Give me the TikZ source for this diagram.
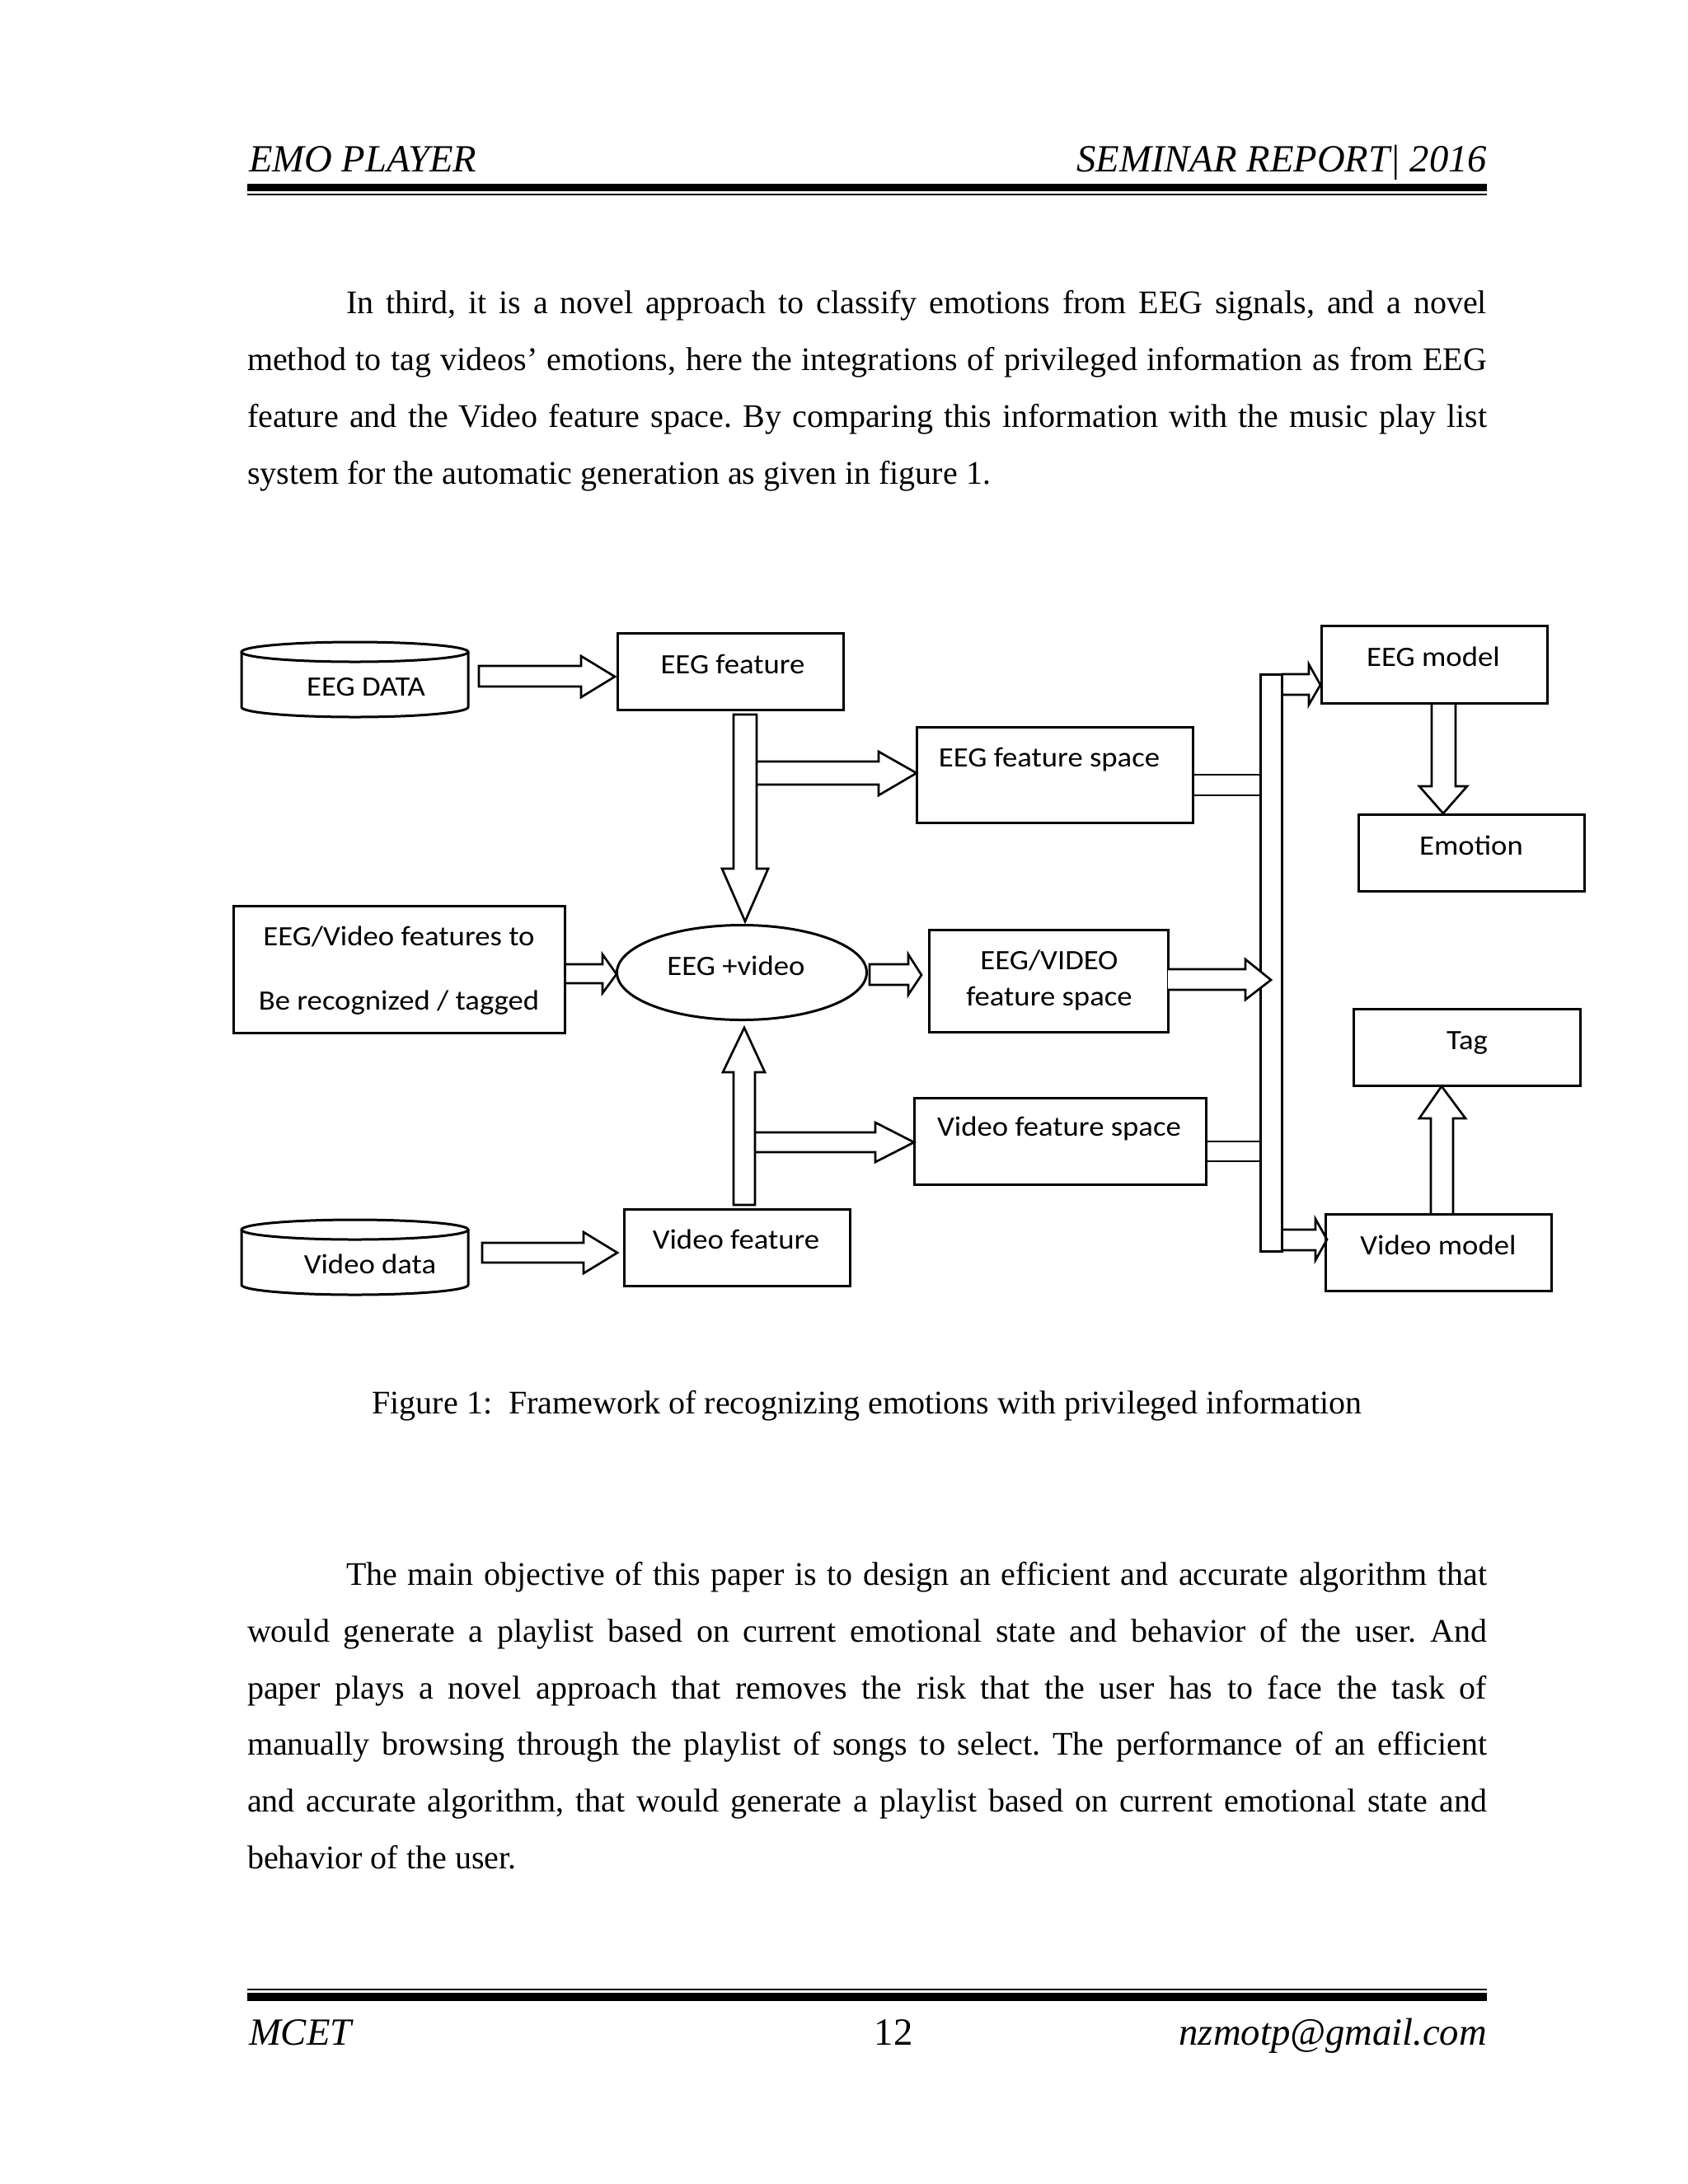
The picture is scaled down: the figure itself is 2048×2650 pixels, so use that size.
\documentclass[tikz,border=0pt]{standalone}
\usepackage{fontspec}
\setmainfont{Liberation Serif}
\newfontfamily\diag[FakeStretch=1.08]{Carlito}
\usetikzlibrary{shapes.geometric}
\frenchspacing
\newcommand\mybox[5]{%
  \pgfmathsetmacro\bw{(#4-#2)*0.3}\pgfmathsetmacro\bh{(#5-#3)*0.3}%
  \node[box, minimum width=\bw pt, minimum height=\bh pt] (#1) at ({(#2+#4)/2},{(#3+#5)/2}) {};}
\newcommand\jline[4]{\node[body] at (#1,#2) {\makebox[#3][s]{#4}};}
\tikzset{
  box/.style={draw, line width=0.9pt, inner sep=0pt, outer sep=0pt},
  lab/.style={font=\diag\fontsize{10.2}{12}\selectfont, inner sep=0pt, outer sep=0pt, anchor=base},
  barrow/.style={draw, line width=0.8pt, line join=miter},
  body/.style={font=\frenchspacing\fontsize{12}{14}\selectfont, inner sep=0pt, outer sep=0pt, anchor=base west},
  hdr/.style={font=\itshape\fontsize{14}{16}\selectfont, inner sep=0pt, outer sep=0pt}
}
\begin{document}
\begin{tikzpicture}[x=0.3pt,y=-0.3pt]
\useasboundingbox (0,0) rectangle (2048,2650);
\fill[white] (0,0) rectangle (2048,2650);

% header
\node[hdr, anchor=base west] (hl) at (302,208) {EMO PLAYER};
\node[hdr, anchor=base east] (hr) at (1804,208) {SEMINAR REPORT| 2016};
\fill (300,223) rectangle (1804,232);
\fill (300,235) rectangle (1804,237);

% paragraph 1
\jline{420}{380}{415.2pt}{In third, it is a novel approach to classify emotions from EEG signals, and a novel}
\jline{300}{449}{451.2pt}{method to tag videos’ emotions, here the integrations of privileged information as from EEG}
\jline{300}{518}{451.2pt}{feature and the Video feature space. By comparing this information with the music play list}
\node[body] at (300,587) {system for the automatic generation as given in figure 1.};

% ---------- diagram ----------
% cylinders
\coordinate (eegdata) at (430.5,825);
\draw[box] (293,791) -- (293,858) arc[start angle=180, end angle=360, x radius=41.25pt, y radius=3.6pt] -- (568,791);
\draw[box] (430.5,791) ellipse [x radius=41.25pt, y radius=3.6pt];
\coordinate (viddata) at (430.5,1526);
\draw[box] (293,1492) -- (293,1559) arc[start angle=180, end angle=360, x radius=41.25pt, y radius=3.6pt] -- (568,1492);
\draw[box] (430.5,1492) ellipse [x radius=41.25pt, y radius=3.6pt];

% boxes
\mybox{eegf}{749}{768}{1023}{861}
\mybox{efs}{1112}{882}{1447}{998}
\mybox{eegm}{1603}{759}{1877}{853}
\mybox{emo}{1648}{988}{1922}{1081}
\mybox{evin}{283}{1099}{685}{1253}
\mybox{evfs}{1127}{1128}{1417}{1252}
\mybox{tag}{1642}{1224}{1917}{1317}
\mybox{vfs}{1109}{1332}{1463}{1437}
\mybox{vidf}{757}{1467}{1031}{1560}
\mybox{vidm}{1608}{1473}{1882}{1566}
\node[box, ellipse, minimum width=90.9pt, minimum height=34.5pt] (ell) at (900,1180) {};

% labels
\node[lab] (t1) at (444,844) {EEG DATA};
\node[lab] (t2) at (889,817) {EEG feature};
\node[lab] (t3) at (1273,930) {EEG feature space};
\node[lab] (t4) at (1739,808) {EEG model};
\node[lab] (t5) at (1785,1037) {Emotion};
\node[lab] (t6) at (484,1147) {EEG/Video features to};
\node[lab] (t7) at (484,1225) {Be recognized / tagged};
\node[lab] (t8) at (893,1183) {EEG +video};
\node[lab] (t9) at (1273,1176) {EEG/VIDEO};
\node[lab] (t10) at (1273,1220) {feature space};
\node[lab] (t11) at (1780,1273) {Tag};
\node[lab] (t12) at (1285,1378) {Video feature space};
\node[lab] (t13) at (893,1515) {Video feature};
\node[lab] (t14) at (1745,1522) {Video model};
\node[lab] (t15) at (449,1545) {Video data};

% block arrows
% EEG DATA -> EEG feature
\draw[barrow] (581,808) -- (705,808) -- (705,796) -- (746,821) -- (705,846) -- (705,833) -- (581,833) -- cycle;
% Video data -> Video feature
\draw[barrow] (585,1508) -- (708,1508) -- (708,1495) -- (749,1520) -- (708,1545) -- (708,1532) -- (585,1532) -- cycle;
% EEG feature down to ellipse
\draw[barrow] (890,867) -- (918,867) -- (918,1054) -- (932,1054) -- (904,1118) -- (876,1054) -- (890,1054) -- cycle;
% branch to EEG feature space
\draw[barrow] (918,924) -- (1066,924) -- (1066,912) -- (1112,938) -- (1066,965) -- (1066,952) -- (918,952);
% Video feature up to ellipse
\draw[barrow] (890,1462) -- (916,1462) -- (916,1301) -- (928,1301) -- (903,1247) -- (877,1301) -- (890,1301) -- cycle;
% branch to Video feature space
\draw[barrow] (916,1374) -- (1062,1374) -- (1062,1362) -- (1109,1386) -- (1062,1410) -- (1062,1398) -- (916,1398);
% EEG/Video features -> ellipse
\draw[barrow] (685,1170) -- (731,1170) -- (731,1158) -- (748,1182) -- (731,1205) -- (731,1193) -- (685,1193);
% ellipse -> EEG/VIDEO feature space
\draw[barrow] (1055,1170) -- (1102,1170) -- (1102,1158) -- (1118,1183) -- (1102,1207) -- (1102,1195) -- (1055,1195) -- cycle;
% feature spaces -> bus (double lines)
\draw[barrow] (efs.east |- 0,940) -- (1529,940);
\draw[barrow] (efs.east |- 0,965) -- (1529,965);
\draw[barrow] (vfs.east |- 0,1385) -- (1529,1385);
\draw[barrow] (vfs.east |- 0,1409) -- (1529,1409);
% bus
\mybox{bus}{1529}{818}{1555}{1518}
% EEG/VIDEO feature space -> bus
\draw[barrow, fill=white] (1417,1176) -- (1511,1176) -- (1511,1164) -- (1542,1189) -- (1511,1213) -- (1511,1201) -- (1417,1201);
% bus -> EEG model
\draw[barrow] (1555,818) -- (1588,818) -- (1588,806) -- (1602,831) -- (1588,855) -- (1588,843) -- (1555,843);
% bus -> Video model
\draw[barrow] (1555,1492) -- (1596,1492) -- (1596,1479) -- (1610,1504) -- (1596,1529) -- (1596,1517) -- (1555,1517);
% EEG model -> Emotion
\draw[barrow] (1737,853) -- (1737,954) -- (1722,954) -- (1751,987) -- (1780,954) -- (1766,954) -- (1766,853);
% Video model -> Tag
\draw[barrow] (1736,1473) -- (1736,1357) -- (1722,1357) -- (1749,1318) -- (1778,1357) -- (1763,1357) -- (1763,1473);

% caption
\node[body, anchor=base] (cap) at (1052,1715) {Figure 1:\ \ Framework of recognizing emotions with privileged information};

% paragraph 2
\jline{420}{1923}{415.2pt}{The main objective of this paper is to design an efficient and accurate algorithm that}
\jline{300}{1992}{451.2pt}{would generate a playlist based on current emotional state and behavior of the user. And}
\jline{300}{2061}{451.2pt}{paper plays a novel approach that removes the risk that the user has to face the task of}
\jline{300}{2129}{451.2pt}{manually browsing through the playlist of songs to select. The performance of an efficient}
\jline{300}{2198}{451.2pt}{and accurate algorithm, that would generate a playlist based on current emotional state and}
\node[body] at (300,2267) {behavior of the user.};

% footer
\fill (300,2413) rectangle (1804,2415);
\fill (300,2418) rectangle (1804,2428);
\node[hdr, anchor=base west] (fl) at (302,2481) {MCET};
\node[font=\fontsize{14}{16}\selectfont, inner sep=0pt, anchor=base] (fc) at (1084,2481) {12};
\node[hdr, anchor=base east] (fr) at (1804,2481) {nzmotp@gmail.com};
\end{tikzpicture}
\end{document}
